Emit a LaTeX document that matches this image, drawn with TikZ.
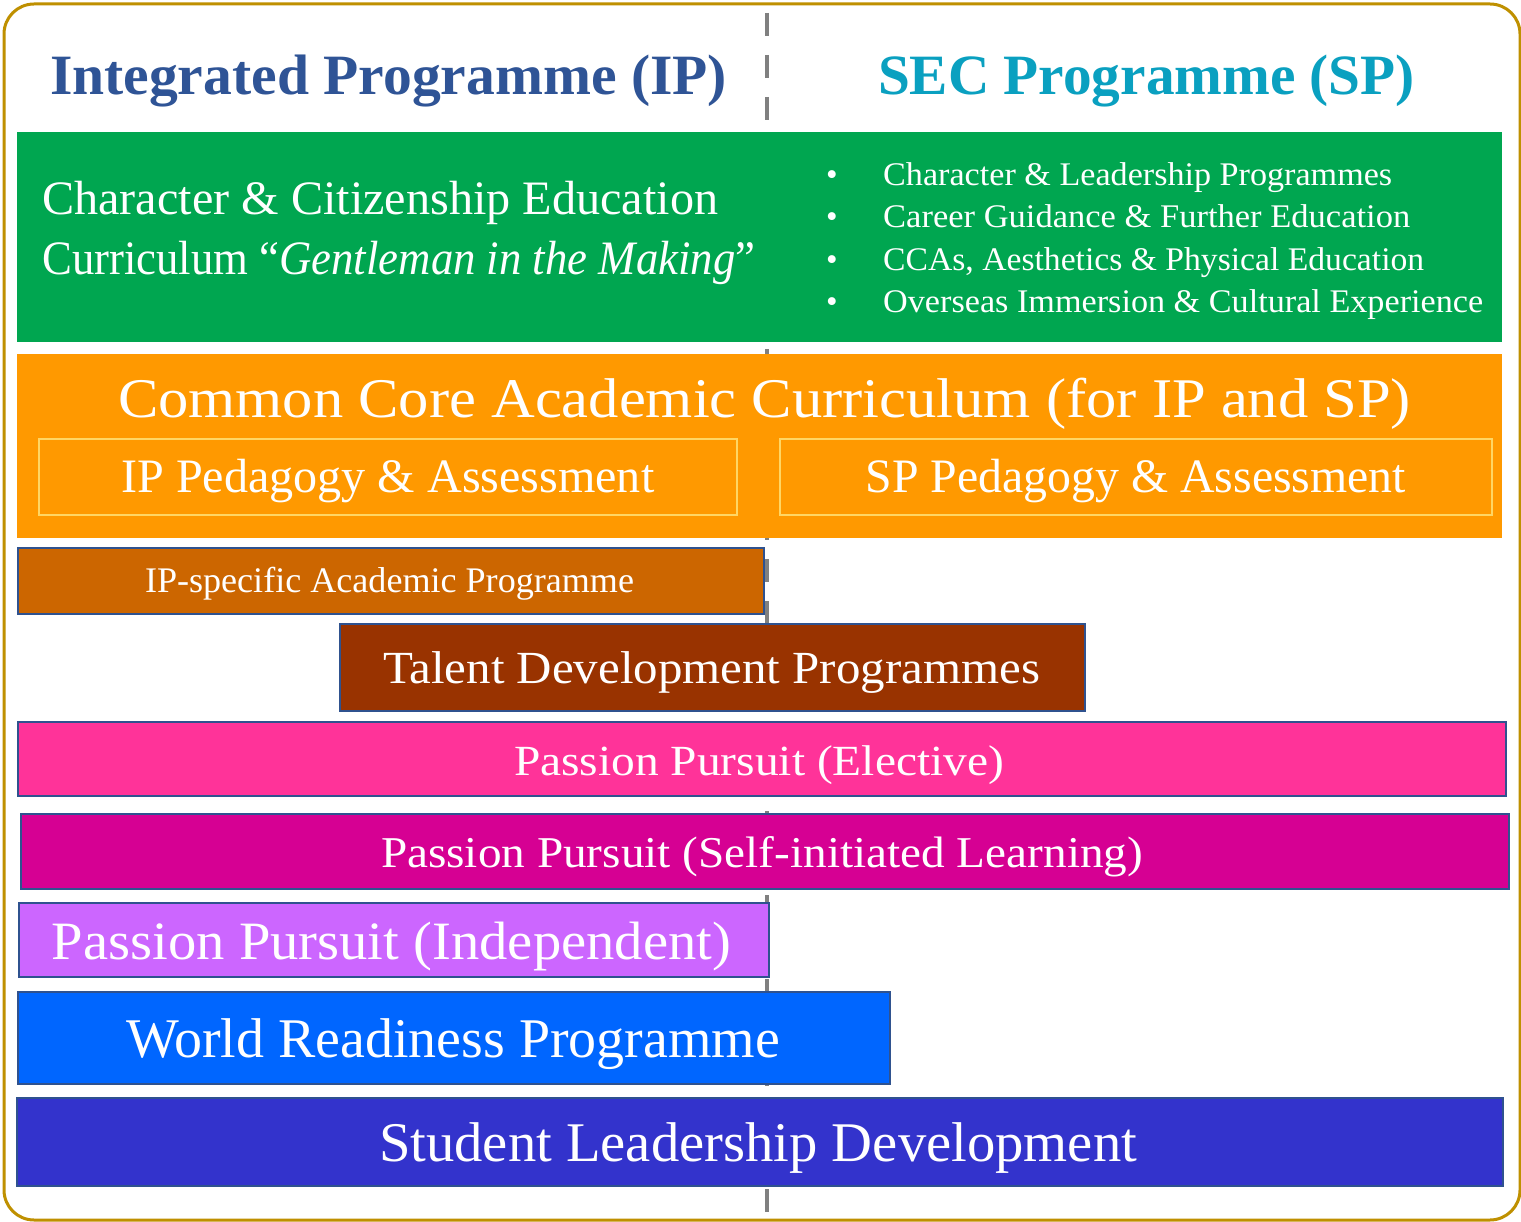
\documentclass[tikz,border=0pt]{standalone}
\usepackage{fontspec}
\setmainfont{Liberation Serif}
\usepackage{graphicx}
\definecolor{gold}{RGB}{191,144,0}
\definecolor{ipblue}{RGB}{47,84,150}
\definecolor{spteal}{RGB}{10,160,192}
\definecolor{dashgray}{RGB}{128,128,128}
\definecolor{boxblue}{RGB}{47,82,143}
\definecolor{cgreen}{RGB}{0,166,80}
\definecolor{corange}{RGB}{255,153,0}
\definecolor{subyellow}{RGB}{255,214,100}
\definecolor{cipspec}{RGB}{204,102,0}
\definecolor{ctalent}{RGB}{153,51,0}
\definecolor{celective}{RGB}{255,51,153}
\definecolor{cself}{RGB}{214,0,147}
\definecolor{cindep}{RGB}{204,102,255}
\definecolor{cworld}{RGB}{0,102,255}
\definecolor{cstudent}{RGB}{51,51,204}
\newsavebox\fitbox
\newcommand\fitw[3]{\sbox\fitbox{\fontsize{#2}{#2}\selectfont #3}%
  \pgfmathsetmacro\fitsx{#1/\the\wd\fitbox}%
  \scalebox{\fitsx}[1]{\usebox\fitbox}}
\begin{document}
\begin{tikzpicture}[x=1pt,y=-1pt,
  frame/.style={draw=gold, line width=3pt, rounded corners=30pt, inner sep=0, anchor=north west},
  plainbox/.style={inner sep=0, anchor=north west, draw=none},
  bar/.style={draw=boxblue, line width=1.8pt, inner sep=0, anchor=north west},
  subbox/.style={draw=subyellow, line width=1.8pt, inner sep=0, anchor=north west},
  txt/.style={text=white, inner sep=0, anchor=base},
  ltxt/.style={text=white, inner sep=0, anchor=base west},
  dashline/.style={draw=dashgray, line width=4pt, dash pattern=on 23pt off 19pt}]
\useasboundingbox (0,0) rectangle (1521,1222);
\fill[white] (0,0) rectangle (1521,1222);

% dashed divider
\coordinate (dtop) at (767,13);
\coordinate (dbot) at (767,1216);
\draw[dashline] (dtop) -- (dbot);

% outer frame
\node[frame, minimum width=1516pt, minimum height=1216pt] (frame) at (2.5,2.5) {};

% headings
\node[inner sep=0, anchor=base, text=ipblue] (hip) at (388.5,95)
  {\fitw{677}{57}{\bfseries Integrated Programme (IP)}};
\node[inner sep=0, anchor=base, text=spteal] (hsp) at (1146.5,95)
  {\fitw{537}{57}{\bfseries SEC Programme (SP)}};

% green block
\node[plainbox, fill=cgreen, minimum width=1485pt, minimum height=210pt] (green) at (17,132) {};
\node[ltxt] (g1) at (42,215) {\fitw{676}{48}{Character \& Citizenship Education}};
\node[ltxt] (g2) at (42,275) {\fitw{713}{48}{Curriculum “\textit{Gentleman in the Making}”}};
\foreach \y/\t/\w [count=\i] in {
  186/{Character \& Leadership Programmes}/509,
  228/{Career Guidance \& Further Education}/527,
  271/{CCAs, Aesthetics \& Physical Education}/541,
  313/{Overseas Immersion \& Cultural Experience}/600}{
  \node[txt] (bul\i) at (832,\y) {\fontsize{33}{33}\selectfont •};
  \node[ltxt] (item\i) at (883,\y) {\fitw{\w}{33}{\t}};
}

% orange block
\node[plainbox, fill=corange, minimum width=1485pt, minimum height=184pt] (orange) at (17,354) {};
\node[txt] (common) at (764.5,418) {\fitw{1293}{56}{Common Core Academic Curriculum (for IP and SP)}};
\node[subbox, minimum width=698pt, minimum height=76pt] (ipped) at (38,438) {};
\node[subbox, minimum width=712pt, minimum height=76pt] (spped) at (779,438) {};
\node[txt] (ipt) at (ipped.center |- 0,492) {\fitw{533}{48}{IP Pedagogy \& Assessment}};
\node[txt] (spt) at (spped.center |- 0,492) {\fitw{540}{48}{SP Pedagogy \& Assessment}};

% bars
\node[bar, fill=cipspec, minimum width=746pt, minimum height=66pt] (ipspec) at (17,547) {};
\node[txt] at (389.5,592) {\fitw{489}{36}{IP-specific Academic Programme}};

\node[bar, fill=ctalent, minimum width=745pt, minimum height=87pt] (talent) at (339,623) {};
\node[txt] at (711.5,683) {\fitw{657}{46}{Talent Development Programmes}};

\node[bar, fill=celective, minimum width=1488pt, minimum height=74pt] (elective) at (17,721) {};
\node[txt] at (759,775) {\fitw{490}{43}{Passion Pursuit (Elective)}};

\node[bar, fill=cself, minimum width=1488pt, minimum height=75pt] (self) at (20,813) {};
\node[txt] at (762,867) {\fitw{762}{44}{Passion Pursuit (Self-initiated Learning)}};

\node[bar, fill=cindep, minimum width=750pt, minimum height=74pt] (indep) at (18,902) {};
\node[txt] at (391.5,959) {\fitw{679}{54}{Passion Pursuit (Independent)}};

\node[bar, fill=cworld, minimum width=872pt, minimum height=92pt] (world) at (17,991) {};
\node[txt] at (453,1057) {\fitw{654}{56}{World Readiness Programme}};

\node[bar, fill=cstudent, minimum width=1486pt, minimum height=88pt] (student) at (16,1097) {};
\node[txt] at (758,1161) {\fitw{758}{56}{Student Leadership Development}};
\end{tikzpicture}
\end{document}
